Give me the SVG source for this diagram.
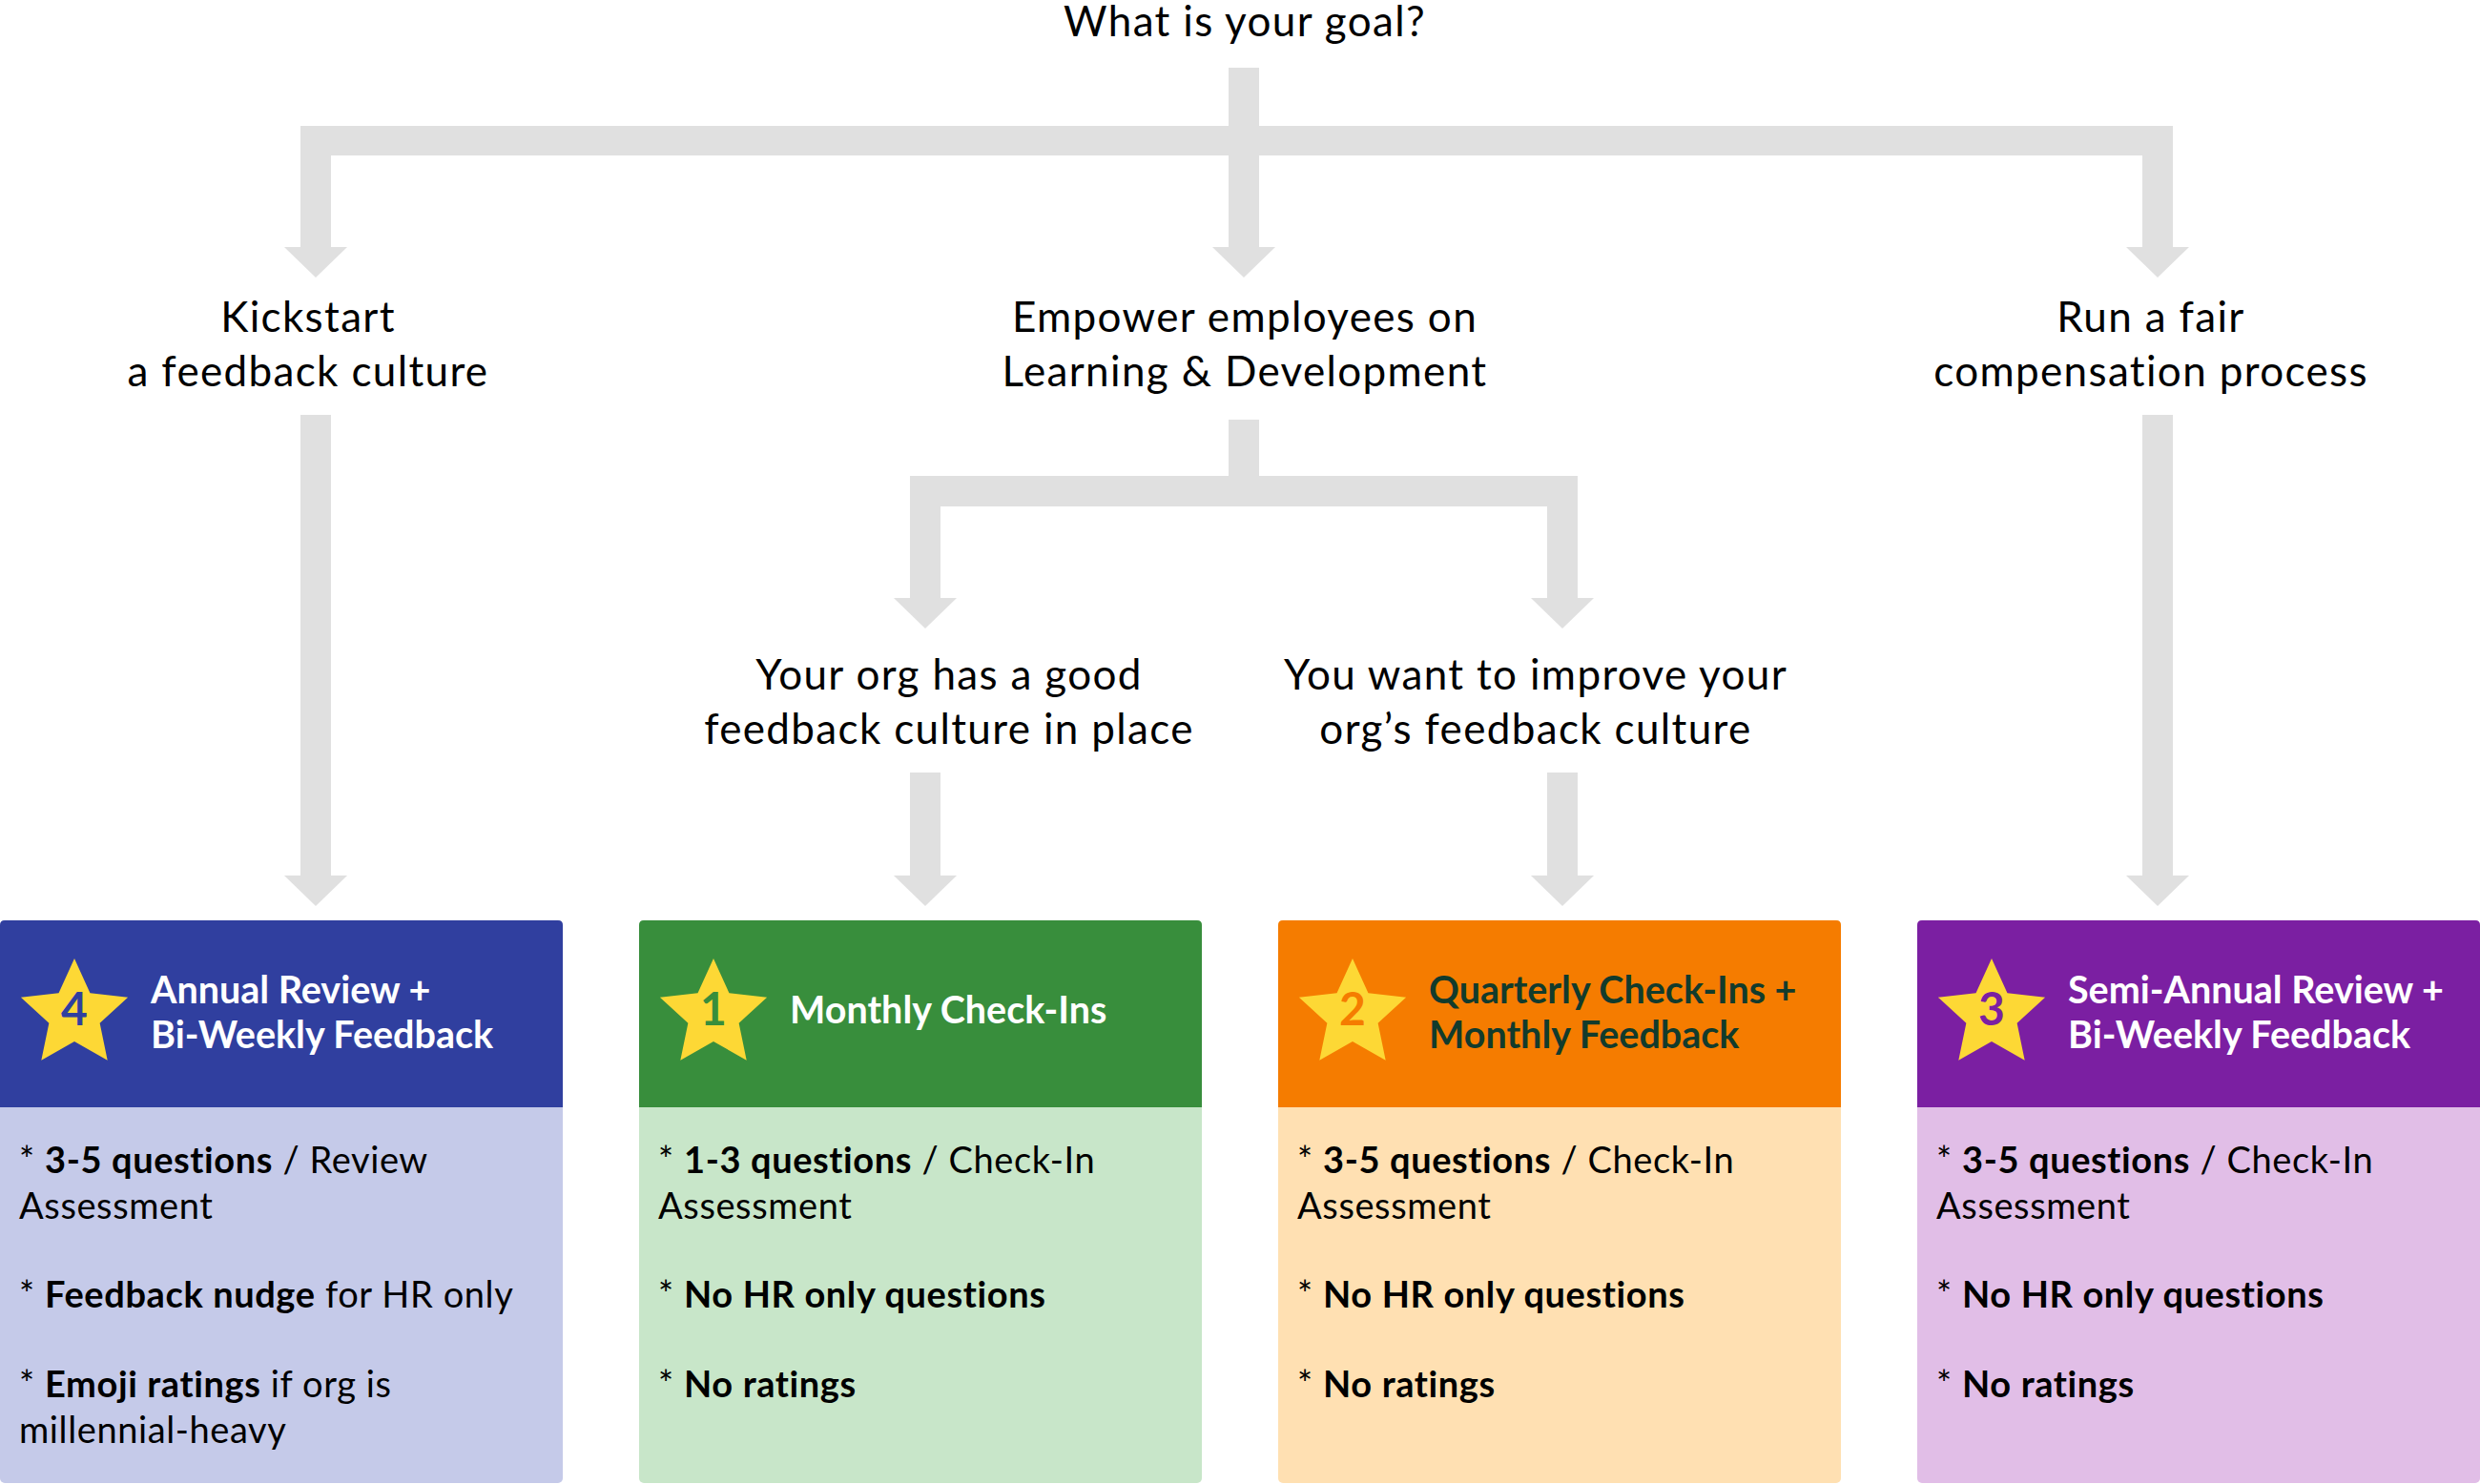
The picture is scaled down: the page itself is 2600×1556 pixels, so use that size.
<svg xmlns="http://www.w3.org/2000/svg" width="2600" height="1556" viewBox="0 0 2600 1556">
<defs>
<style>
.lbl{font-family:Lato,"Open Sans","Liberation Sans",sans-serif;font-size:44px;letter-spacing:1.35px;fill:#000;text-anchor:middle}
.hd{font-family:Lato,"Open Sans","Liberation Sans",sans-serif;font-size:39.5px;font-weight:bold}
.bd{font-family:Lato,"Open Sans","Liberation Sans",sans-serif;font-size:38px;letter-spacing:0.6px;fill:#000}
.b{font-weight:bold}
.num{font-family:Lato,"Open Sans","Liberation Sans",sans-serif;font-size:48px;font-weight:bold;text-anchor:middle}
.conn{fill:#E0E0E0}
.star{fill:#FDD835}
</style>
<path id="star" d="M0,-59 L16.46,-22.65 L56.11,-18.23 L26.63,8.65 L34.68,47.73 L0,28 L-34.68,47.73 L-26.63,8.65 L-56.11,-18.23 L-16.46,-22.65 Z"/>
</defs>
<rect width="2600" height="1556" fill="#fff"/>

<g id="connectors" class="conn">
<rect x="1288" y="71" width="32" height="62"/>
<rect x="315" y="132" width="1963" height="31"/>
<path d="M315,163 H347 V259 H364 L331,291 L298,259 H315 Z"/>
<path d="M1288,163 H1320 V259 H1337 L1304,291 L1271,259 H1288 Z"/>
<path d="M2246,163 H2278 V259 H2295 L2262,291 L2229,259 H2246 Z"/>
<rect x="1288" y="440" width="32" height="60"/>
<rect x="954" y="499" width="700" height="32"/>
<path d="M954,531 H986 V627 H1003 L970,659 L937,627 H954 Z"/>
<path d="M1622,531 H1654 V627 H1671 L1638,659 L1605,627 H1622 Z"/>
<path d="M315,435 H347 V918 H364 L331,950 L298,918 H315 Z"/>
<path d="M2246,435 H2278 V918 H2295 L2262,950 L2229,918 H2246 Z"/>
<path d="M954,810 H986 V918 H1003 L970,950 L937,918 H954 Z"/>
<path d="M1622,810 H1654 V918 H1671 L1638,950 L1605,918 H1622 Z"/>
</g>

<g id="goal"><text class="lbl" x="1305" y="38">What is your goal?</text></g>
<g id="kickstart"><text class="lbl" x="323" y="348">Kickstart</text><text class="lbl" x="323" y="405">a feedback culture</text></g>
<g id="empower"><text class="lbl" x="1305" y="348">Empower employees on</text><text class="lbl" x="1305" y="405">Learning &amp; Development</text></g>
<g id="fair"><text class="lbl" x="2255" y="348">Run a fair</text><text class="lbl" x="2255" y="405">compensation process</text></g>
<g id="goodculture"><text class="lbl" x="995" y="723">Your org has a good</text><text class="lbl" x="995" y="780">feedback culture in place</text></g>
<g id="improve"><text class="lbl" x="1610" y="723">You want to improve your</text><text class="lbl" x="1610" y="780">org’s feedback culture</text></g>

<g id="card4">
<rect x="0" y="965" width="590" height="590" rx="5" fill="#C5CAE9"/>
<path d="M0,1161 V970 Q0,965 5,965 H585 Q590,965 590,970 V1161 Z" fill="#303F9F"/>
<use href="#star" class="star" x="78" y="1064"/>
<text class="num" x="78" y="1075" fill="#303F9F">4</text>
<text class="hd" fill="#fff" x="158" y="1052">Annual Review +</text>
<text class="hd" fill="#fff" x="158" y="1099">Bi-Weekly Feedback</text>
<text class="bd" x="20" y="1230">* <tspan class="b">3-5 questions</tspan> / Review</text>
<text class="bd" x="20" y="1278">Assessment</text>
<text class="bd" x="20" y="1371">* <tspan class="b">Feedback nudge</tspan> for HR only</text>
<text class="bd" x="20" y="1465">* <tspan class="b">Emoji ratings</tspan> if org is</text>
<text class="bd" x="20" y="1513">millennial-heavy</text>
</g>

<g id="card1">
<rect x="670" y="965" width="590" height="590" rx="5" fill="#C8E6C9"/>
<path d="M670,1161 V970 Q670,965 675,965 H1255 Q1260,965 1260,970 V1161 Z" fill="#388E3C"/>
<use href="#star" class="star" x="748" y="1064"/>
<text class="num" x="748" y="1075" fill="#388E3C">1</text>
<text class="hd" fill="#fff" x="828" y="1073">Monthly Check-Ins</text>
<text class="bd" x="690" y="1230">* <tspan class="b">1-3 questions</tspan> / Check-In</text>
<text class="bd" x="690" y="1278">Assessment</text>
<text class="bd" x="690" y="1371">* <tspan class="b">No HR only questions</tspan></text>
<text class="bd" x="690" y="1465">* <tspan class="b">No ratings</tspan></text>
</g>

<g id="card2">
<rect x="1340" y="965" width="590" height="590" rx="5" fill="#FFE0B2"/>
<path d="M1340,1161 V970 Q1340,965 1345,965 H1925 Q1930,965 1930,970 V1161 Z" fill="#F57C00"/>
<use href="#star" class="star" x="1418" y="1064"/>
<text class="num" x="1418" y="1075" fill="#F57C00">2</text>
<text class="hd" fill="#123B2C" x="1498" y="1052">Quarterly Check-Ins +</text>
<text class="hd" fill="#123B2C" x="1498" y="1099">Monthly Feedback</text>
<text class="bd" x="1360" y="1230">* <tspan class="b">3-5 questions</tspan> / Check-In</text>
<text class="bd" x="1360" y="1278">Assessment</text>
<text class="bd" x="1360" y="1371">* <tspan class="b">No HR only questions</tspan></text>
<text class="bd" x="1360" y="1465">* <tspan class="b">No ratings</tspan></text>
</g>

<g id="card3">
<rect x="2010" y="965" width="590" height="590" rx="5" fill="#E1BEE7"/>
<path d="M2010,1161 V970 Q2010,965 2015,965 H2595 Q2600,965 2600,970 V1161 Z" fill="#7B1FA2"/>
<use href="#star" class="star" x="2088" y="1064"/>
<text class="num" x="2088" y="1075" fill="#7B1FA2">3</text>
<text class="hd" fill="#fff" x="2168" y="1052">Semi-Annual Review +</text>
<text class="hd" fill="#fff" x="2168" y="1099">Bi-Weekly Feedback</text>
<text class="bd" x="2030" y="1230">* <tspan class="b">3-5 questions</tspan> / Check-In</text>
<text class="bd" x="2030" y="1278">Assessment</text>
<text class="bd" x="2030" y="1371">* <tspan class="b">No HR only questions</tspan></text>
<text class="bd" x="2030" y="1465">* <tspan class="b">No ratings</tspan></text>
</g>
</svg>
